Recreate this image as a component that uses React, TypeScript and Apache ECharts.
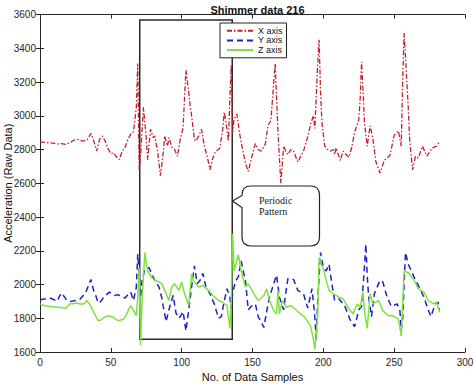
import React, { useEffect, useRef } from "react";
import * as echarts from "echarts";

// Shimmer accelerometer recording 216: raw counts per sample for each axis.
const xIdx = [0, 3, 6, 9, 12, 15, 18, 21, 24, 27, 30, 33, 36, 38, 40, 42, 44, 46, 48, 50, 52, 54, 56, 58, 60, 62, 64, 66, 68, 69, 70, 71, 73, 75, 76, 78, 80, 81, 83, 85, 87, 88, 90, 91, 93, 95, 97, 99, 101, 102, 103, 105, 106, 107, 108, 109, 110, 112, 114, 116, 118, 120, 122, 124, 126, 127, 129, 130, 131, 133, 134, 135, 136, 137, 139, 141, 143, 145, 147, 149, 152, 154, 156, 159, 161, 163, 165, 166, 168, 170, 172, 174, 175, 177, 179, 182, 184, 186, 189, 191, 193, 194, 196, 197, 198, 199, 201, 203, 205, 207, 208, 209, 212, 214, 216, 218, 220, 222, 225, 226, 227, 228, 229, 231, 233, 235, 237, 240, 243, 247, 250, 253, 255, 256, 257, 258, 260, 261, 263, 265, 267, 270, 273, 277, 280, 282];
const xVals = [2845, 2842, 2840, 2838, 2832, 2835, 2830, 2840, 2855, 2860, 2850, 2855, 2895, 2850, 2790, 2860, 2880, 2850, 2805, 2775, 2780, 2755, 2740, 2790, 2810, 2860, 2890, 2905, 3050, 3310, 2680, 2760, 3050, 2870, 2740, 2920, 2870, 2880, 2790, 2645, 2780, 2880, 2820, 2870, 2815, 2800, 2760, 2860, 2930, 3100, 3270, 3140, 3060, 3000, 2930, 2860, 2850, 2880, 2920, 2820, 2760, 2680, 2750, 2790, 2800, 2810, 2920, 3020, 2980, 2850, 3100, 3300, 2900, 2980, 3010, 2890, 2800, 2720, 2670, 2740, 2835, 2800, 2790, 2830, 2945, 2970, 3200, 3310, 2900, 2600, 2820, 2780, 2770, 2800, 2790, 2725, 2760, 2790, 2875, 2950, 3000, 2925, 3300, 3450, 3150, 2960, 2820, 2800, 2790, 2800, 2770, 2810, 2735, 2790, 2770, 2755, 2810, 2900, 2975, 3100, 3320, 3150, 2960, 2820, 2940, 2865, 2730, 2660, 2735, 2765, 2885, 2910, 2820, 3200, 3490, 3350, 3040, 2850, 2680, 2760, 2750, 2820, 2760, 2810, 2820, 2845];

const yIdx = [0, 4, 7, 10, 12, 15, 17, 19, 22, 25, 28, 30, 32, 34, 36, 38, 39, 41, 43, 45, 47, 49, 51, 53, 55, 57, 60, 62, 64, 66, 68, 69, 70, 71, 72, 74, 77, 79, 81, 84, 86, 87, 89, 91, 92, 94, 96, 98, 99, 101, 103, 105, 107, 109, 111, 113, 115, 117, 120, 123, 126, 128, 130, 132, 134, 135, 136, 138, 140, 142, 144, 145, 147, 149, 152, 154, 156, 158, 160, 162, 165, 167, 169, 172, 173, 175, 179, 182, 186, 189, 192, 194, 195, 196, 198, 200, 202, 204, 206, 208, 211, 215, 219, 222, 223, 225, 227, 229, 230, 231, 232, 234, 236, 240, 242, 245, 248, 252, 254, 255, 256, 258, 260, 264, 267, 271, 274, 276, 279, 281, 282];
const yVals = [1910, 1915, 1920, 1910, 1900, 1950, 1930, 1905, 1900, 1905, 1910, 1930, 1945, 1990, 2030, 1960, 1945, 1890, 1900, 1925, 1940, 1955, 1945, 1935, 1940, 1930, 1920, 1940, 1955, 1905, 1985, 2180, 2060, 1925, 2020, 2090, 2100, 2060, 2025, 1985, 1920, 1870, 1780, 1850, 1880, 1935, 1830, 1800, 1810, 1840, 1725, 1850, 1985, 2110, 2005, 2025, 2065, 1990, 1945, 1885, 1800, 1810, 1900, 1975, 1925, 1860, 1950, 2020, 2045, 2140, 2060, 2025, 1850, 1870, 1885, 1810, 1780, 1745, 1840, 1925, 2005, 2055, 1925, 1850, 1920, 2035, 2030, 1965, 1945, 1860, 1975, 1810, 1675, 1900, 2190, 2100, 2080, 2120, 2005, 1905, 1915, 1875, 1790, 1750, 1780, 1850, 1870, 2100, 2240, 2050, 1925, 1810, 1945, 2025, 2015, 1925, 1870, 1885, 1850, 1730, 1800, 2190, 2120, 2045, 1995, 1925, 1850, 1810, 1885, 1895, 1850];

const zIdx = [0, 3, 7, 10, 13, 16, 18, 21, 24, 26, 28, 31, 33, 35, 38, 41, 43, 45, 48, 50, 52, 55, 57, 59, 61, 63, 64, 66, 68, 69, 70, 71, 72, 74, 76, 79, 81, 84, 86, 88, 91, 93, 95, 98, 100, 102, 105, 107, 108, 112, 115, 119, 122, 126, 129, 132, 134, 135, 136, 137, 140, 142, 145, 147, 151, 154, 158, 160, 162, 165, 167, 168, 169, 171, 174, 177, 180, 184, 187, 191, 193, 194, 196, 197, 200, 204, 207, 211, 214, 218, 221, 224, 226, 228, 229, 231, 233, 235, 239, 242, 246, 249, 253, 255, 257, 260, 264, 267, 271, 274, 278, 280, 282];
const zVals = [1885, 1875, 1870, 1868, 1865, 1862, 1858, 1885, 1888, 1890, 1885, 1885, 1905, 1885, 1835, 1785, 1790, 1805, 1815, 1810, 1805, 1785, 1790, 1795, 1820, 1860, 1875, 1845, 1815, 1925, 2100, 1640, 1900, 2190, 2080, 2040, 2025, 2015, 2005, 1965, 1905, 1985, 2005, 1965, 2015, 1945, 1875, 2065, 2025, 1985, 1995, 1965, 1935, 1905, 1895, 1875, 1740, 1905, 2300, 2080, 2175, 2080, 1985, 2005, 1945, 1905, 1935, 1975, 1905, 1845, 1825, 1965, 1825, 1905, 1865, 1875, 1855, 1825, 1805, 1755, 1675, 1615, 1805, 2160, 2090, 1965, 1945, 1925, 1915, 1855, 1825, 1885, 1865, 1955, 1845, 1740, 1945, 1885, 1905, 1845, 1815, 1815, 1795, 1695, 2080, 2070, 2025, 1975, 1955, 1905, 1885, 1895, 1835];

const xTicks = [0, 50, 100, 150, 200, 250, 300];
const yTicks = [1600, 1800, 2000, 2200, 2400, 2600, 2800, 3000, 3200, 3400, 3600];

// Window that holds one period of the gait pattern.
const periodWindow = { from: 70.4, to: 135.7, low: 1675, high: 3568 };

const calloutLines = ["Periodic", "Pattern"];

const pair = (idx: number[], vals: number[]) => idx.map((s, i) => [s, vals[i]]);

const calloutPath =
  "M251 186 L310.5 186 Q319.5 186 319.5 195 L319.5 237 Q319.5 246 310.5 246 L251 246 Q242 246 242 237 L242 207.5 L232.5 201 L242 195.5 L242 195 Q242 186 251 186 Z";
echarts.graphic.registerShape("callout", echarts.graphic.extendPath(calloutPath, {}));

const FONT = '"Liberation Sans", Arial, sans-serif';
const INK = "#262626";

export default function App() {
  const ref = useRef<HTMLDivElement>(null);

  useEffect(() => {
    if (!ref.current) return;
    const chart = echarts.init(ref.current, undefined, { renderer: "svg" });
    const xMin = xTicks[0];
    const xMax = xTicks[xTicks.length - 1];
    const xStep = xTicks[1] - xTicks[0];
    const yMin = yTicks[0];
    const yMax = yTicks[yTicks.length - 1];
    const yStep = yTicks[1] - yTicks[0];
    const plain = (v: number) => String(v);

    const baseX = {
      type: "value" as const,
      min: xMin,
      max: xMax,
      interval: xStep,
      splitLine: { show: false },
      axisLine: { show: true, lineStyle: { color: INK, width: 1 } },
      axisTick: { show: true, inside: true, length: 4, lineStyle: { color: INK } },
    };
    const baseY = {
      type: "value" as const,
      min: yMin,
      max: yMax,
      interval: yStep,
      splitLine: { show: false },
      axisLine: { show: true, lineStyle: { color: INK, width: 1 } },
      axisTick: { show: true, inside: true, length: 4, lineStyle: { color: INK } },
    };

    chart.setOption({
      animation: false,
      backgroundColor: "#fff",
      title: {
        text: "Shimmer data 216",
        left: 252.5,
        top: -1,
        textAlign: "center",
        textStyle: { fontFamily: FONT, fontSize: 11, fontWeight: "bold", color: "#111" },
      },
      grid: {
        left: 40,
        right: 9,
        top: 14.5,
        bottom: 32,
        show: false,
        containLabel: false,
        outerBoundsMode: "none",
      },
      legend: {
        orient: "vertical",
        left: 220,
        top: 23,
        padding: [3, 4, 3, 6],
        itemGap: 0,
        itemWidth: 26,
        itemHeight: 12,
        itemStyle: { opacity: 0, borderWidth: 0 },
        borderColor: "#222",
        borderWidth: 1,
        backgroundColor: "#fff",
        textStyle: { fontFamily: FONT, fontSize: 9, color: "#111" },
        data: ["X axis", "Y axis", "Z axis"],
      },
      xAxis: [
        {
          ...baseX,
          position: "bottom",
          name: "No. of Data Samples",
          nameLocation: "middle",
          nameGap: 18,
          nameTextStyle: { fontFamily: FONT, fontSize: 11, color: "#111" },
          axisLabel: { fontFamily: FONT, fontSize: 10, color: INK, margin: 5, formatter: plain },
        },
        { ...baseX, position: "top", axisLabel: { show: false } },
      ],
      yAxis: [
        {
          ...baseY,
          position: "left",
          name: "Acceleration (Raw Data)",
          nameLocation: "middle",
          nameGap: 27,
          nameMoveOverlap: false,
          nameTextStyle: { fontFamily: FONT, fontSize: 11, color: "#111" },
          axisLabel: { fontFamily: FONT, fontSize: 10, color: INK, margin: 4, formatter: plain },
        },
        { ...baseY, position: "right", axisLabel: { show: false } },
      ],
      series: [
        {
          name: "X axis",
          type: "line",
          data: pair(xIdx, xVals),
          symbol: "none",
          lineStyle: { color: "#c3202a", width: 1.3, type: [5, 2, 1.5, 2] },
          itemStyle: { color: "#c3202a" },
        },
        {
          name: "Y axis",
          type: "line",
          data: pair(yIdx, yVals),
          symbol: "none",
          lineStyle: { color: "#2020c8", width: 1.5, type: [6, 4] },
          itemStyle: { color: "#2020c8" },
        },
        {
          name: "Z axis",
          type: "line",
          data: pair(zIdx, zVals),
          symbol: "none",
          lineStyle: { color: "#7fe23c", width: 1.5 },
          itemStyle: { color: "#7fe23c" },
          markArea: {
            silent: true,
            itemStyle: { color: "rgba(0,0,0,0)", borderColor: "#2a2a2a", borderWidth: 1.5 },
            data: [
              [
                { coord: [periodWindow.from, periodWindow.high] },
                { coord: [periodWindow.to, periodWindow.low] },
              ],
            ],
          },
        },
      ],
      graphic: [
        {
          type: "callout",
          x: 0,
          y: 0,
          z: 100,
          style: { fill: "#fff", stroke: "#222", lineWidth: 1.2 },
        },
        {
          type: "text",
          left: 259,
          top: 195,
          z: 101,
          style: {
            text: calloutLines.join("\n"),
            font: '10px "Liberation Serif", "Times New Roman", serif',
            lineHeight: 11,
            fill: "#222",
          },
        },
      ],
    });
    return () => chart.dispose();
  }, []);

  return (
    <div
      ref={ref}
      style={{ position: "fixed", left: 0, top: 0, width: 474, height: 384 }}
    />
  );
}
